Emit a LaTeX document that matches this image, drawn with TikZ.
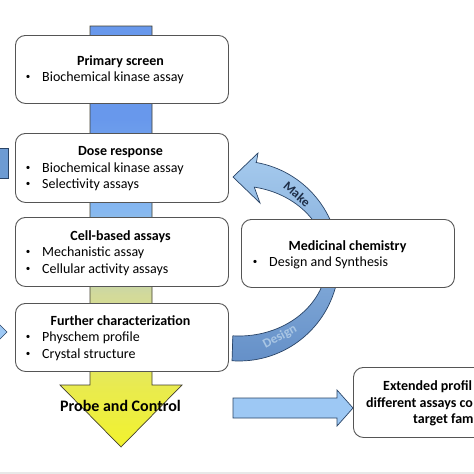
\documentclass[tikz,border=0pt]{standalone}
\usepackage{fontspec}
\setmainfont{Carlito}
\definecolor{boxgray}{HTML}{555555}
\definecolor{cY}{HTML}{F2F22E}
\definecolor{cYb}{HTML}{E9EB4E}
\definecolor{cK}{HTML}{D3DA9A}
\definecolor{cLB}{HTML}{86B8F0}
\definecolor{cB}{HTML}{6898EC}
\definecolor{arrtop}{HTML}{A6CBEE}
\definecolor{arrbot}{HTML}{6590C8}
\definecolor{navy}{HTML}{2A4466}
\definecolor{steel}{HTML}{6D9BD3}
\definecolor{lightarr}{HTML}{9DC8F4}
\definecolor{makecol}{HTML}{1E2E48}
\definecolor{designcol}{HTML}{A9C6E4}
\pgfdeclareverticalshading{barshade}{100bp}{color(0bp)=(cY); color(25bp)=(cY); color(32bp)=(cYb); color(43bp)=(cK); color(53bp)=(cLB); color(64bp)=(cB); color(75bp)=(cB); color(100bp)=(cB)}
\begin{document}
\begin{tikzpicture}[x=1pt,y=-1pt,
  box/.style={draw=boxgray, line width=0.9pt, rounded corners=10pt, fill=white,
    minimum width=213pt, minimum height=68pt, inner sep=0pt, anchor=north west},
  ttl/.style={font=\bfseries\fontsize{14}{17}\selectfont, anchor=base, inner sep=0pt},
  itm/.style={font=\fontsize{14}{17}\selectfont, anchor=base west, inner sep=0pt},
  bul/.style={font=\fontsize{9}{11}\selectfont, anchor=base, inner sep=0pt},
  ext/.style={font=\bfseries\fontsize{14}{17}\selectfont, anchor=base west, inner sep=0pt},
  blockarrow/.style={draw=navy, line width=0.7pt, line join=miter}]
\useasboundingbox (0,0) rectangle (474,474);
\clip (0,0) rectangle (474,474);
\fill[white] (0,0) rectangle (474,474);
\fill[black!9] (0,472) rectangle (474,474);

% main vertical arrow
\draw[draw=black!70!olive, line width=0.7pt, shading=barshade]
  (90,26) -- (152,26) -- (152,385) -- (182,385) -- (121,447) -- (60,385) -- (90,385) -- cycle;

% left partial shapes
\draw[blockarrow, fill=steel] (-5,148) rectangle (8,178);
\draw[blockarrow, fill=lightarr] (-4,321) -- (7,332) -- (-4,343) -- cycle;

% circular arrow
\draw[blockarrow, top color=arrtop, bottom color=arrbot]
  (233,177) -- (258,153) -- (256.4,162.5)
  -- plot[domain=-80:94, samples=70, smooth] ({239+100*cos(\x)},{261+100*sin(\x)})
  -- plot[domain=94:-80, samples=70, smooth] ({239+88*cos(\x)},{261+75*sin(\x)})
  -- (260,203) -- cycle;
\node[font=\bfseries\fontsize{13}{15}\selectfont, text=makecol, rotate=-41, inner sep=0pt] (make) at (297,194) {Make};
\node[font=\bfseries\fontsize{13}{15}\selectfont, text=designcol, rotate=28, inner sep=0pt] (design) at (280,337) {Design};

% boxes
\node[box] (ps) at (15,35) {};
\node[ttl] (pst) at (120.5,65.5) {Primary screen};
\node[bul] at (28,79.5) {\textbullet};
\node[itm] at (42,81.5) {Biochemical kinase assay};

\node[box, minimum height=69pt] (dr) at (15,133) {};
\node[ttl] (drt) at (120.5,155.5) {Dose response};
\node[bul] at (28,170.5) {\textbullet};
\node[itm] at (42,172.5) {Biochemical kinase assay};
\node[bul] at (28,186.5) {\textbullet};
\node[itm] at (42,188.5) {Selectivity assays};

\node[box, minimum height=69pt] (cb) at (15,217) {};
\node[ttl] (cbt) at (120.5,240.5) {Cell-based assays};
\node[bul] at (28,254.5) {\textbullet};
\node[itm] at (42,256.5) {Mechanistic assay};
\node[bul] at (28,271.5) {\textbullet};
\node[itm] at (42,273.5) {Cellular activity assays};

\node[box] (fc) at (15,303) {};
\node[ttl] (fct) at (120.5,325.5) {Further characterization};
\node[bul] at (28,339.5) {\textbullet};
\node[itm] at (42,341.5) {Physchem profile};
\node[bul] at (28,356.5) {\textbullet};
\node[itm] at (42,358.5) {Crystal structure};

\node[box] (mc) at (241,219) {};
\node[ttl] (mct) at (347.5,250.5) {Medicinal chemistry};
\node[bul] at (255,264.5) {\textbullet};
\node[itm] at (269,266.5) {Design and Synthesis};

% probe label
\node[font=\bfseries\fontsize{16}{19}\selectfont, anchor=base, inner sep=0pt] (probe) at (120.5,411.5) {Probe and Control};

% right arrow
\draw[blockarrow, fill=lightarr]
  (233,398) -- (337,398) -- (337,390) -- (353,408) -- (337,426) -- (337,418) -- (233,418) -- cycle;

% extended box (cut by the picture edge)
\node[box, minimum width=160pt, minimum height=70pt] (eb) at (353,367) {};
\node[ext] at (383,390.5) {Extended profil};
\node[ext] at (366,407.5) {different assays co};
\node[ext] at (413,423.5) {target fam};
\end{tikzpicture}
\end{document}
